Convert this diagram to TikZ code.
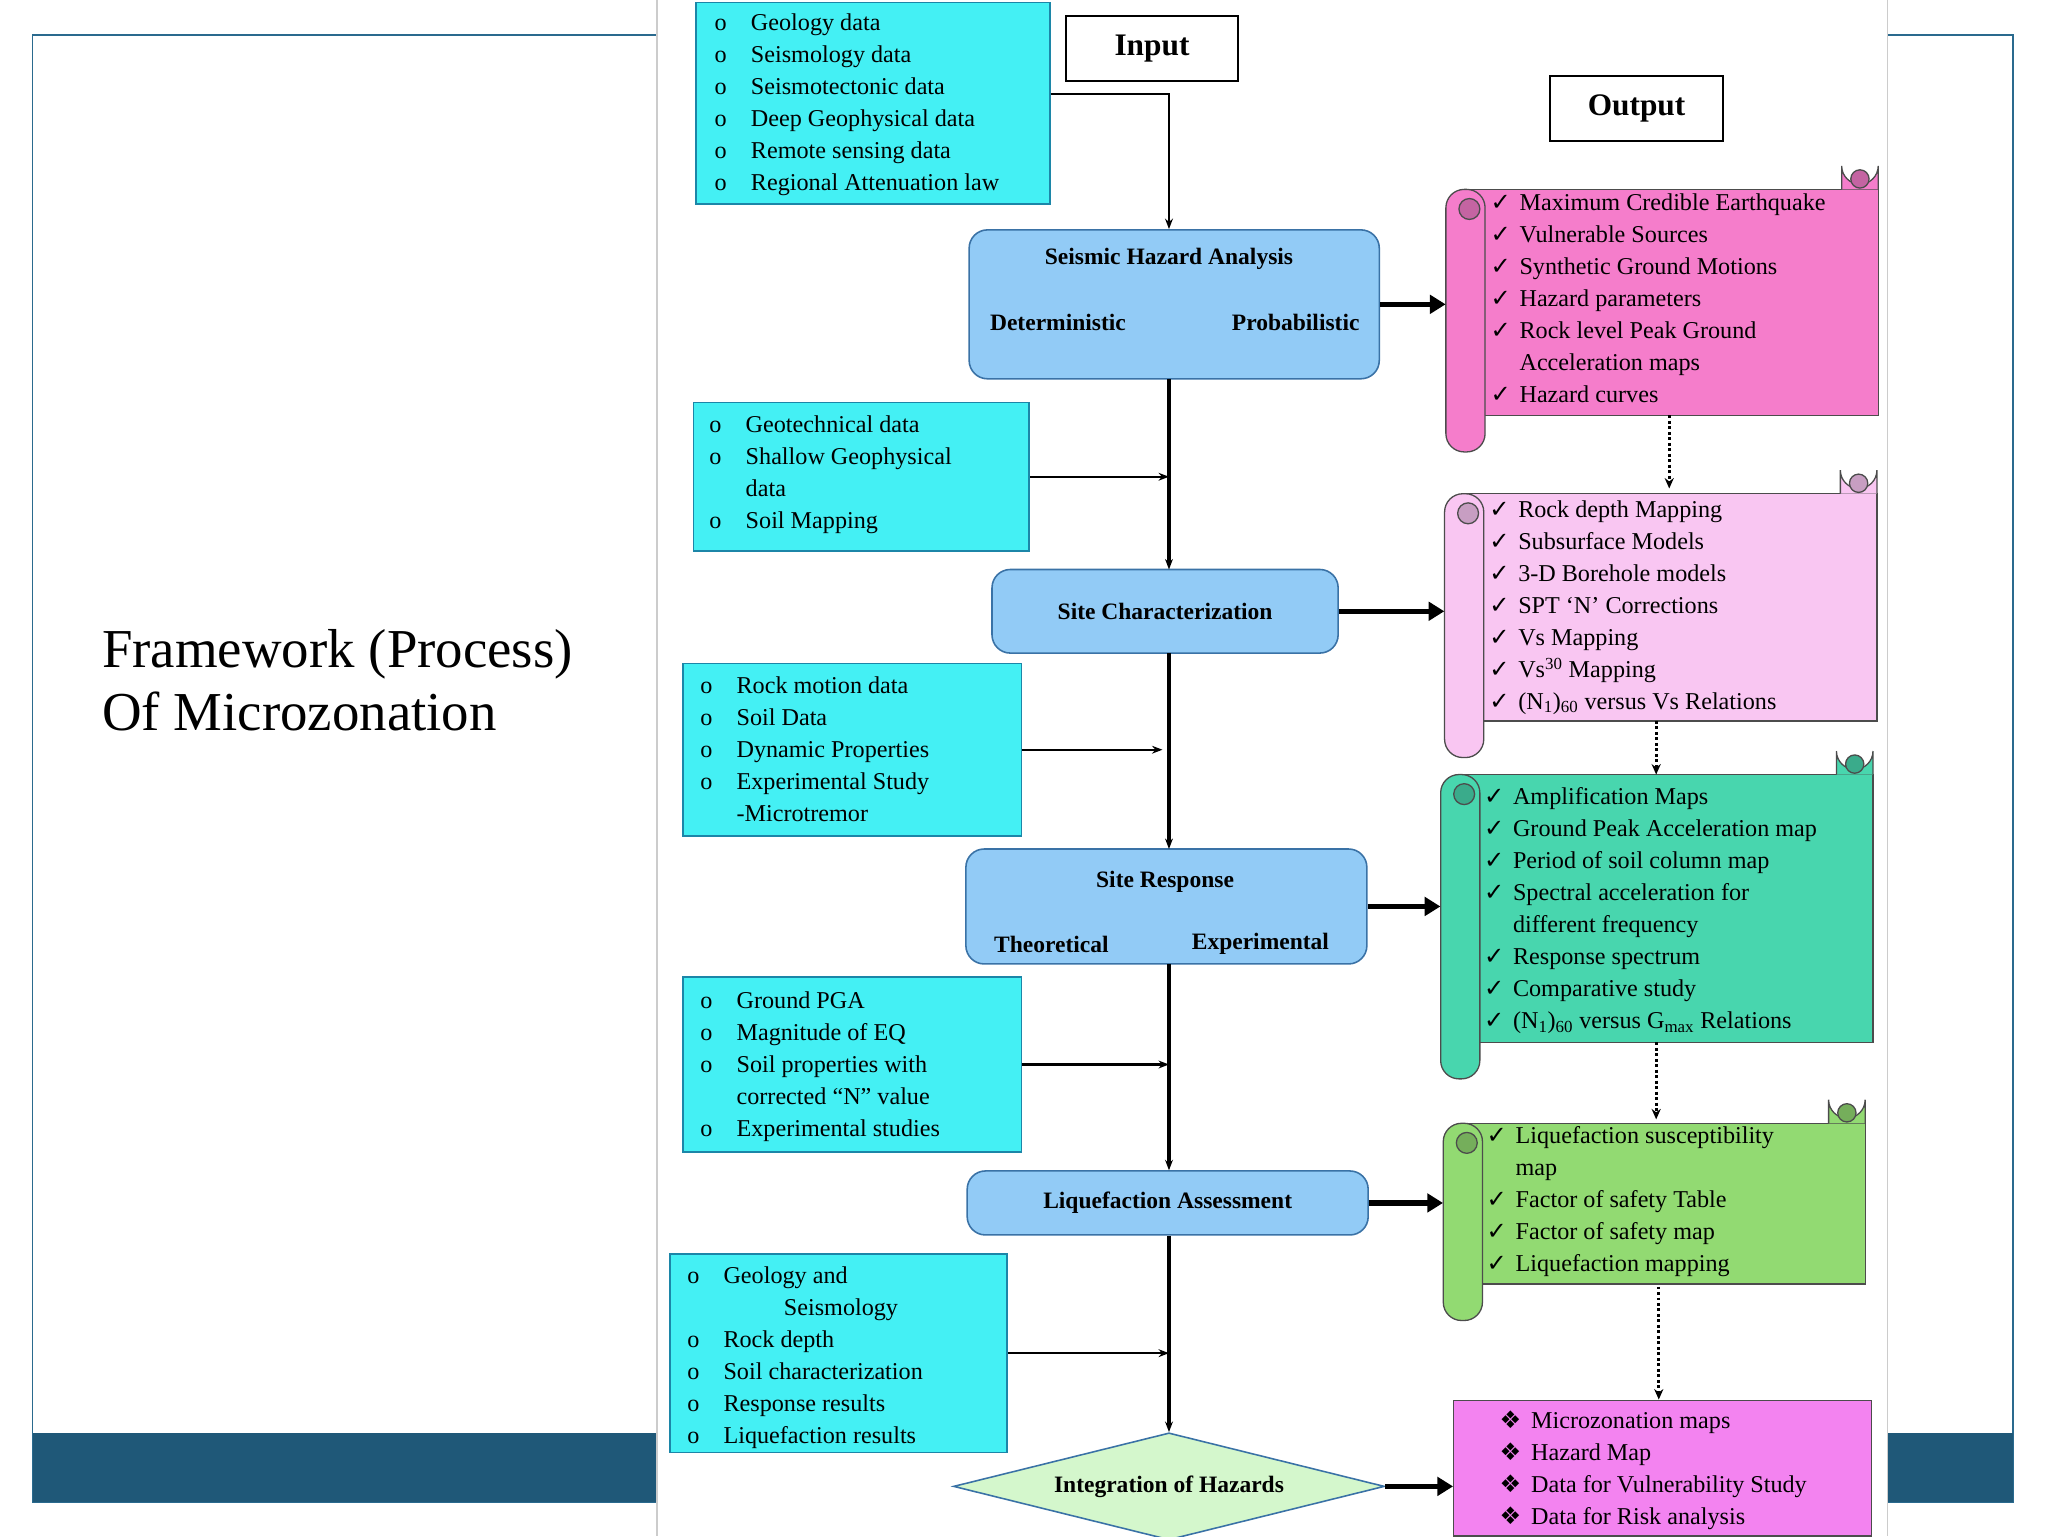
\documentclass[tikz,border=0pt]{standalone}
\usepackage{fontspec}
\setmainfont{Liberation Serif}
\newfontfamily\sym{DejaVu Sans}
\usetikzlibrary{shapes.geometric,arrows.meta,fit}
\definecolor{frameblue}{HTML}{2A6A8E}
\definecolor{barblue}{HTML}{1F5878}
\definecolor{cyanf}{HTML}{44F0F4}
\definecolor{cyanb}{HTML}{1C86A8}
\definecolor{bluef}{HTML}{92CBF6}
\definecolor{blueb}{HTML}{3A72A6}
\definecolor{pinkA}{HTML}{F57DCB}
\definecolor{pinkB}{HTML}{F9C6F2}
\definecolor{tealC}{HTML}{48D6AE}
\definecolor{greenD}{HTML}{92DA72}
\definecolor{magE}{HTML}{F383F0}
\definecolor{diaf}{HTML}{D4F7CC}
\newcommand\bi[1]{\makebox[1.5em][l]{o}#1}
\newcommand\bc[1]{\hspace*{1.5em}#1}
\newcommand\ck[1]{\makebox[1.2em][l]{\sym\char"2713}#1}
\newcommand\cc[1]{\hspace*{1.2em}#1}
\newcommand\dm[1]{\makebox[1.3em][l]{\sym\char"2756}#1}
\tikzset{
 cbox/.style={draw=cyanb,fill=cyanf,line width=1.2pt,inner sep=0pt},
 btxt/.style={anchor=north west,align=left,inner sep=0pt,font=\fontsize{18.5}{24.5}\selectfont},
 proc/.style={draw=blueb,fill=bluef,line width=1.2pt,rounded corners=14pt,inner sep=0pt,font=\bfseries\fontsize{18}{22}\selectfont},
 lbl/.style={draw=black,fill=white,line width=1.6pt,inner sep=0pt,font=\bfseries\fontsize{24}{28}\selectfont},
 feed/.style={line width=1.8pt,-{Stealth[length=8pt,width=6pt]}},
 spine/.style={line width=2.4pt},
 fat/.style={line width=4pt,-{Triangle[length=12pt,width=14pt]}},
 dots/.style={line width=2.2pt,dotted,-{Stealth[length=8pt,width=7pt]}},
 sline/.style={draw=black!70,line width=1pt},
}
% scroll: x1 y1 x2 y2 colour
\newcommand\scrl[5]{%
 \draw[sline,fill=#5] (#1+15,#2+30) rectangle (#3,#4);
 \draw[sline,fill=#5] (#3-28,#2+30) -- (#3-28,#2+12) arc[start angle=180,end angle=0,radius=14] -- (#3,#2+30);
 \draw[sline,fill=#5!80!black] (#3-14,#2+22) circle[radius=7];
 \draw[sline,fill=#5,rounded corners=14pt] (#1,#2+30) rectangle (#1+30,#4+28);
 \draw[sline,fill=#5!80!black] (#1+18,#2+45) circle[radius=8];
}
\begin{document}
\begin{tikzpicture}[x=1pt,y=-1pt]
\useasboundingbox (0,0) rectangle (1568,1176);
\fill[white] (0,0) rectangle (1568,1176);
\draw[frameblue,line width=1.2pt] (25,27) rectangle (1541,1150);
\fill[barblue] (25,1097) rectangle (1541,1150);
\fill[white] (503,0) rectangle (1445,1176);
\draw[black!20,line width=1pt] (503,0) -- (503,1176) (1445,0) -- (1445,1176);
\node[anchor=west,align=left,inner sep=0pt,font=\fontsize{42}{48}\selectfont] (title) at (78,521) {Framework (Process)\\Of Microzonation};

\node[lbl,minimum width=132,minimum height=50] (inp) at (882,37) {Input};
\node[lbl,minimum width=133,minimum height=50] (out) at (1253,83) {Output};

% cyan input boxes
\node[cbox,minimum width=271,minimum height=154] (c1) at (668.5,79) {};
\node[btxt] (t1) at (547,10) {\bi{Geology data}\\\bi{Seismology data}\\\bi{Seismotectonic data}\\\bi{Deep Geophysical data}\\\bi{Remote sensing data}\\\bi{Regional Attenuation law}};
\node[cbox,minimum width=257,minimum height=114] (c2) at (659.5,365) {};
\node[btxt] (t2) at (543,318) {\bi{Geotechnical data}\\\bi{Shallow Geophysical}\\\bc{data}\\\bi{Soil Mapping}};
\node[cbox,minimum width=259,minimum height=132] (c3) at (652.5,574) {};
\node[btxt] (t3) at (536,518) {\bi{Rock motion data}\\\bi{Soil Data}\\\bi{Dynamic Properties}\\\bi{Experimental Study}\\\bc{-Microtremor}};
\node[cbox,minimum width=259,minimum height=134] (c4) at (652.5,815) {};
\node[btxt] (t4) at (536,759) {\bi{Ground PGA}\\\bi{Magnitude of EQ}\\\bi{Soil properties with}\\\bc{corrected ``N'' value}\\\bi{Experimental studies}};
\node[cbox,minimum width=258,minimum height=152] (c5) at (642,1036) {};
\node[btxt] (t5) at (526,970) {\bi{Geology and}\\\bc{\hspace*{2.5em}Seismology}\\\bi{Rock depth}\\\bi{Soil characterization}\\\bi{Response results}\\\bi{Liquefaction results}};

% process nodes
\node[proc,minimum width=314,minimum height=114] (sha) at (899,233) {};
\node[font=\bfseries\fontsize{18}{22}\selectfont] (shat) at (895,198) {Seismic Hazard Analysis};
\node[font=\bfseries\fontsize{18}{22}\selectfont] (shad) at (810,247) {Deterministic};
\node[font=\bfseries\fontsize{18}{22}\selectfont] (shap) at (992,247) {Probabilistic};
\node[proc,minimum width=265,minimum height=64] (sc) at (892,468) {Site Characterization};
\node[proc,minimum width=307,minimum height=88] (sr) at (893,694) {};
\node[font=\bfseries\fontsize{18}{22}\selectfont] (srt) at (892,675) {Site Response};
\node[font=\bfseries\fontsize{18}{22}\selectfont] (srth) at (805,723) {Theoretical};
\node[font=\bfseries\fontsize{18}{22}\selectfont] (srex) at (965,723) {Experimental};
\node[proc,minimum width=307,minimum height=49] (la) at (894,921) {Liquefaction Assessment};
\node[diamond,aspect=4.1,draw=blueb,fill=diaf,line width=1.2pt,minimum width=330,minimum height=82,inner sep=0pt,font=\bfseries\fontsize{18}{22}\selectfont] (ih) at (895,1138) {Integration of Hazards};

% output scrolls
\scrl{1107}{115}{1438}{318}{pinkA}
\node[inner sep=0pt,fit={(1107,145)(1438,345)}] (s1) {};
\node[btxt] (o1) at (1141,148) {\ck{Maximum Credible Earthquake}\\\ck{Vulnerable Sources}\\\ck{Synthetic Ground Motions}\\\ck{Hazard parameters}\\\ck{Rock level Peak Ground}\\\cc{Acceleration maps}\\\ck{Hazard curves}};
\scrl{1106}{348}{1437}{552}{pinkB}
\node[inner sep=0pt,fit={(1106,378)(1437,580)}] (s2) {};
\node[btxt] (o2) at (1140,383) {\ck{Rock depth Mapping}\\\ck{Subsurface  Models}\\\ck{3-D Borehole models}\\\ck{SPT `N' Corrections}\\\ck{Vs Mapping}\\\ck{Vs\textsuperscript{30} Mapping}\\\ck{(N\textsubscript{1})\textsubscript{60} versus Vs Relations}};
\scrl{1103}{563}{1434}{798}{tealC}
\node[inner sep=0pt,fit={(1103,593)(1434,826)}] (s3) {};
\node[btxt] (o3) at (1136,603) {\ck{Amplification  Maps}\\\ck{Ground Peak Acceleration map}\\\ck{Period of soil column map}\\\ck{Spectral acceleration for}\\\cc{different frequency}\\\ck{Response spectrum}\\\ck{Comparative study}\\\ck{(N\textsubscript{1})\textsubscript{60} versus G\textsubscript{max} Relations}};
\scrl{1105}{830}{1428}{983}{greenD}
\node[inner sep=0pt,fit={(1105,860)(1428,1003)}] (s4) {};
\node[btxt] (o4) at (1138,862) {\ck{Liquefaction susceptibility}\\\cc{map}\\\ck{Factor of safety Table}\\\ck{Factor of safety map}\\\ck{Liquefaction mapping}};
\node[draw=black!70,fill=magE,line width=1pt,minimum width=320,minimum height=104,inner sep=0pt] (fin) at (1273,1124) {};
\node[btxt] (o5) at (1148,1080) {\dm{Microzonation maps}\\\dm{Hazard Map}\\\dm{Data for Vulnerability Study}\\\dm{Data for Risk analysis}};

% connectors
\coordinate (k1) at (895,72);
\draw[feed] (c1.east |- k1) -- (k1) -- (k1 |- sha.north);
\draw[spine,-{Stealth[length=8pt,width=6pt]}] (895,290) -- (895,436);
\draw[spine,-{Stealth[length=8pt,width=6pt]}] (895,500) -- (895,650);
\draw[spine,-{Stealth[length=8pt,width=6pt]}] (895,738) -- (895,896);
\draw[spine,-{Stealth[length=8pt,width=6pt]}] (895,946) -- (ih.north);
\draw[feed] (c2.east) -- (c2.east -| 895,0);
\draw[feed] (c3.east) -- (c3.east -| 890,0);
\draw[feed] (c4.east) -- (c4.east -| 895,0);
\draw[feed] (c5.east) -- (c5.east -| 895,0);
\draw[fat] (sha.east) -- (sha.east -| s1.west);
\draw[fat] (sc.east) -- (sc.east -| s2.west);
\draw[fat] (sr.east) -- (sr.east -| s3.west);
\draw[fat] (la.east) -- (la.east -| s4.west);
\draw[fat] (ih.east) -- (ih.east -| fin.west);
\draw[dots] (1278,318) -- (1278,374);
\draw[dots] (1268,552) -- (1268,593);
\draw[dots] (1268,798) -- (1268,857);
\draw[dots] (1270,985) -- (fin.north -| 1270,0);
\end{tikzpicture}
\end{document}
